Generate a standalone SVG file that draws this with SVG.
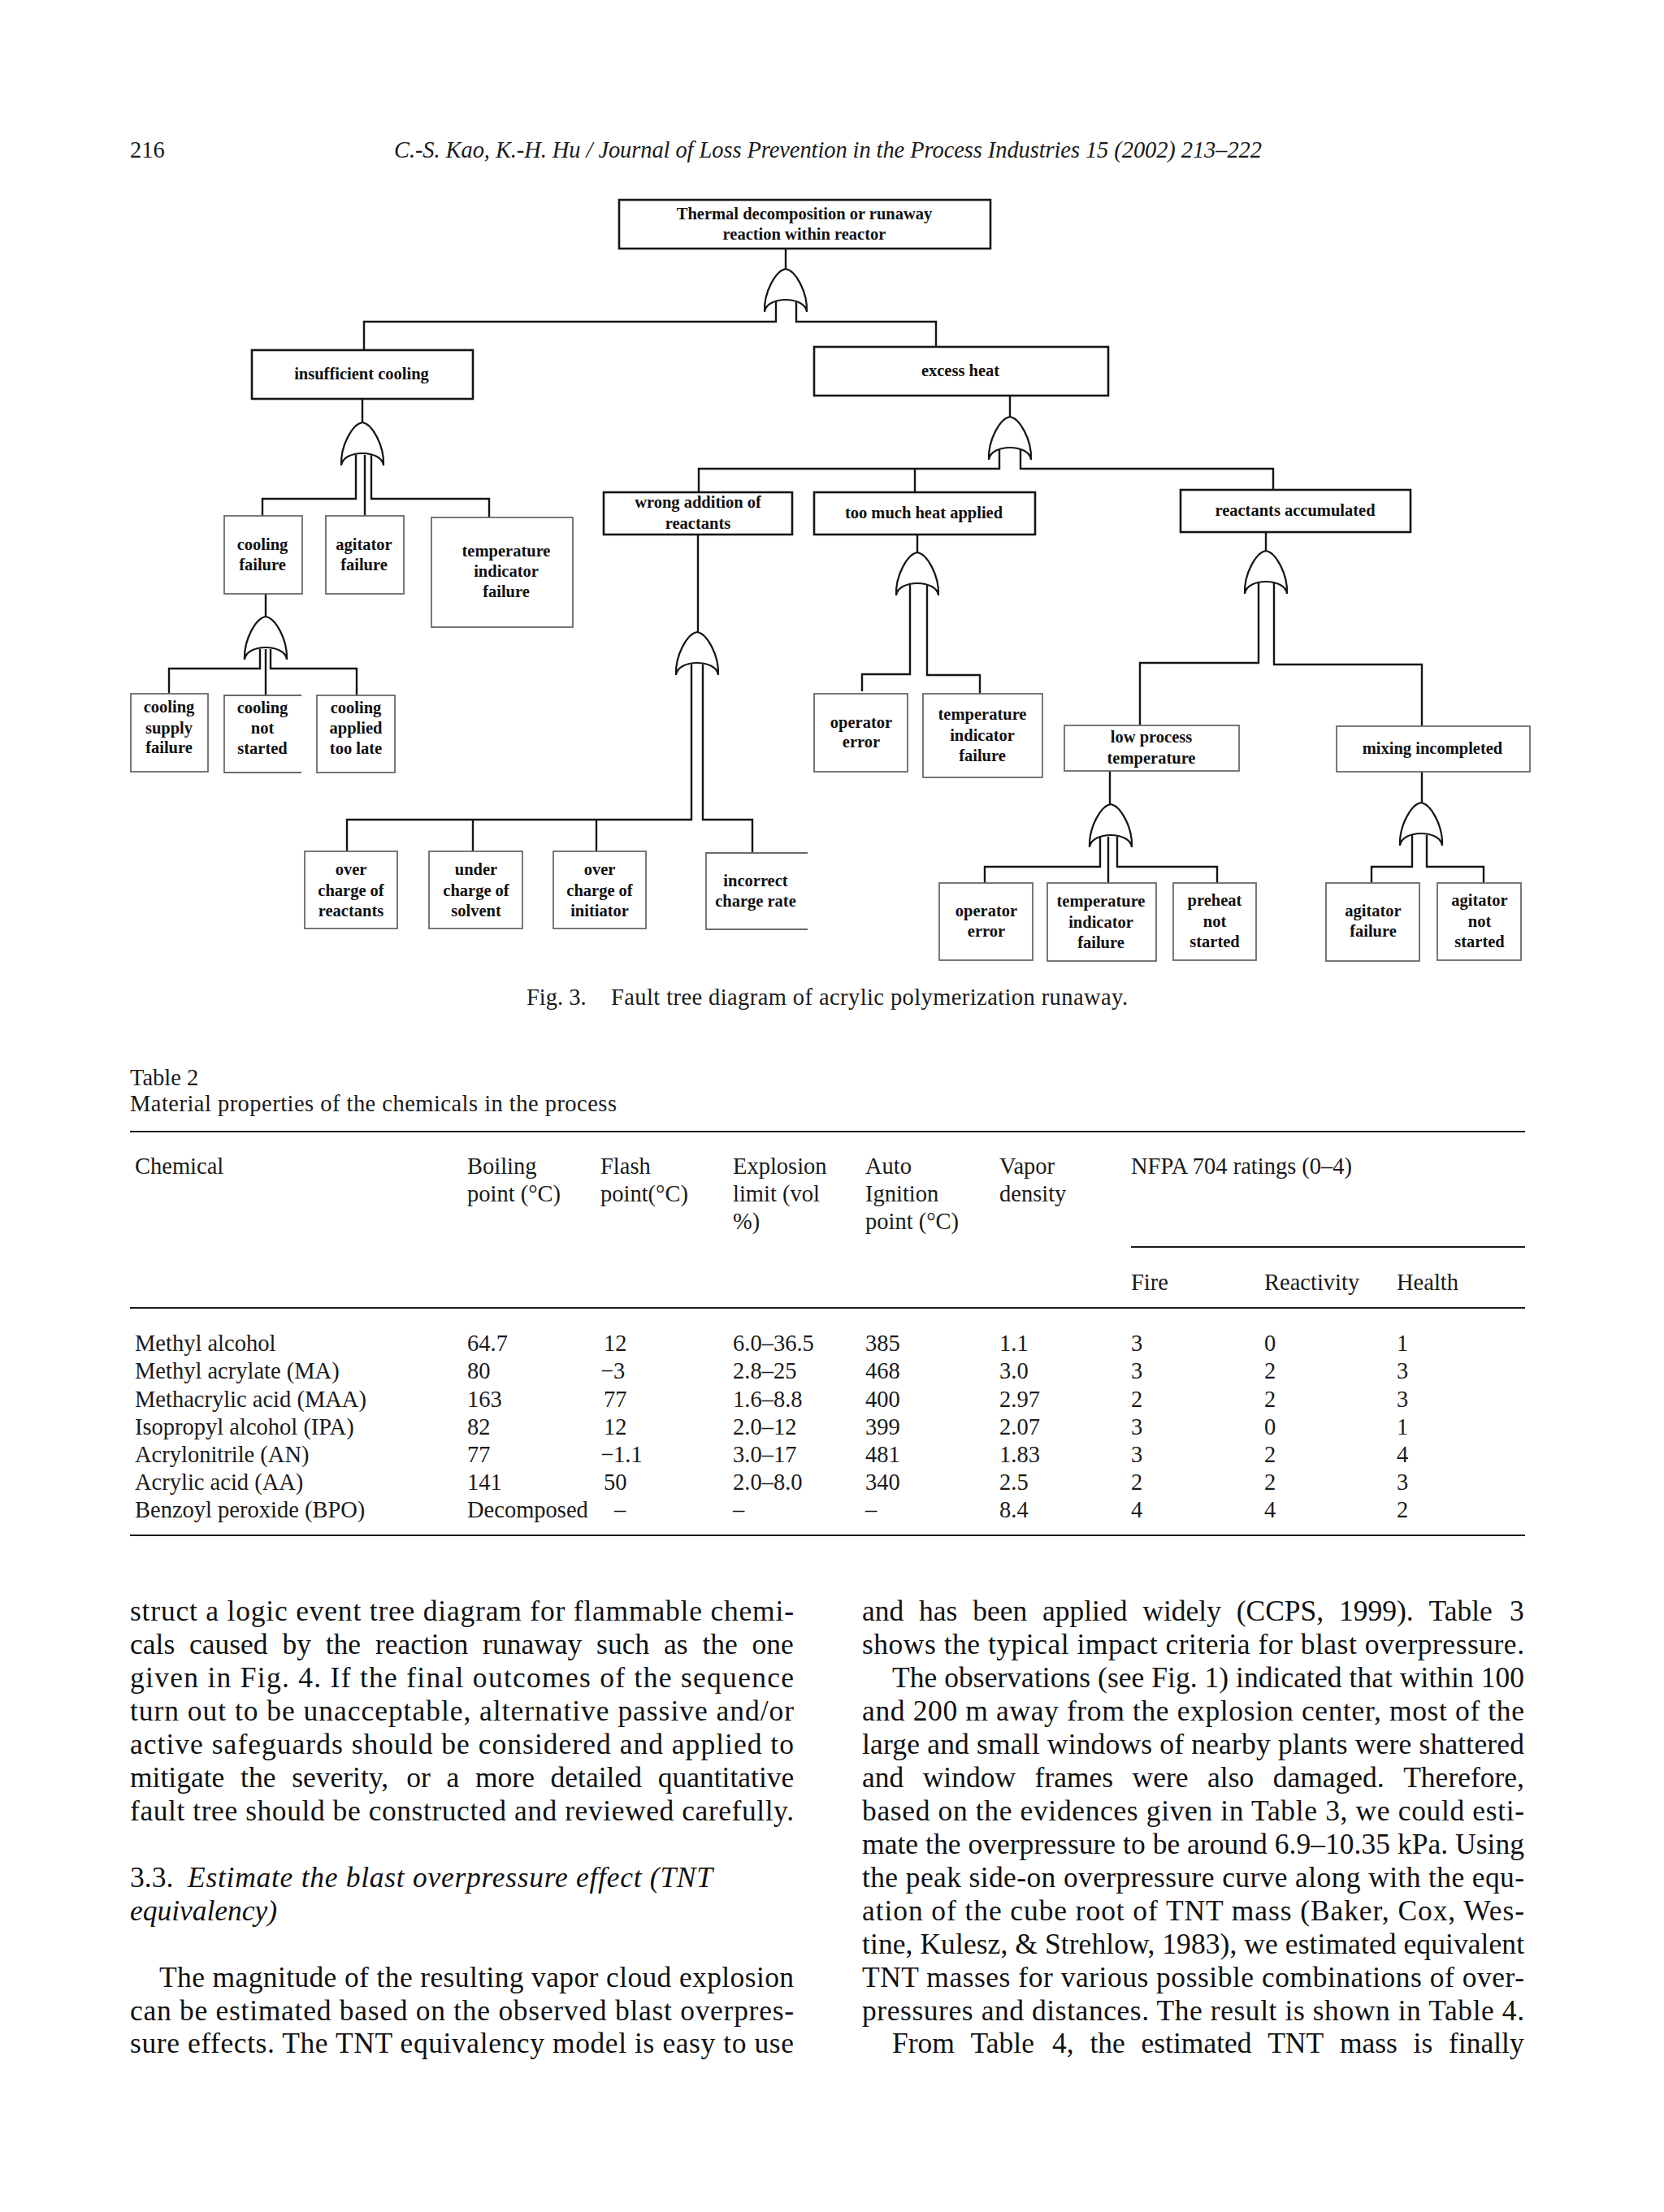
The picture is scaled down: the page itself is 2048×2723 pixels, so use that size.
<svg xmlns="http://www.w3.org/2000/svg" width="2048" height="2723" viewBox="0 0 2048 2723">
<style>
.thick{fill:#fff;stroke:#151515;stroke-width:2.6}
.thin{fill:#fff;stroke:#6a6a6a;stroke-width:1.8}
.open{fill:none;stroke:#6a6a6a;stroke-width:1.8}
.ln{fill:none;stroke:#151515;stroke-width:2.4}
.gate{fill:#fff;stroke:#151515;stroke-width:2.2}
.bt{font-family:"Liberation Serif","Times New Roman",serif;font-weight:bold;font-size:20.5px;text-anchor:middle;fill:#111}
.tx{font-family:"Liberation Serif","Times New Roman",serif;font-size:28.5px;fill:#1a1a1a}
.body{font-family:"Liberation Serif","Times New Roman",serif;font-size:35.5px;fill:#111}
.it{font-style:italic}
.rule{stroke:#1a1a1a;stroke-width:2.2}
</style>
<defs>
<path id="orgate" d="M -26 53 C -27 28 -12 2 0 0 C 12 2 27 28 26 53 C 24 33 -24 33 -26 53 Z"/>
</defs>
<rect width="2048" height="2723" fill="#fff"/>

<!-- page header -->
<text class="tx" x="160" y="194">216</text>
<text class="tx it" x="485" y="194" textLength="1068">C.-S. Kao, K.-H. Hu / Journal of Loss Prevention in the Process Industries 15 (2002) 213–222</text>

<!-- connectors -->
<g id="connectors" class="ln">
<path d="M967 306 V331"/>
<path d="M955 371 V396 H448 V431"/>
<path d="M980 371 V396 H1152 V427"/>
<path d="M446 491 V520"/>
<path d="M438 560 V614 H323 V635"/>
<path d="M449 560 V635"/>
<path d="M457 560 V614 H602 V637"/>
<path d="M327 731 V759"/>
<path d="M320 799 V823 H208 V854"/>
<path d="M327 799 V856"/>
<path d="M333 799 V823 H439 V856"/>
<path d="M1243 487 V513"/>
<path d="M1230 553 V577 H860 V606"/>
<path d="M1126 577 V606"/>
<path d="M1256 553 V577 H1567 V603"/>
<path d="M859 658 V778"/>
<path d="M851 818 V1009 H427 V1048"/>
<path d="M582 1009 V1048"/>
<path d="M734 1009 V1048"/>
<path d="M865 818 V1009 H926 V1050"/>
<path d="M1129 658 V680"/>
<path d="M1120 720 V830 H1061 V851"/>
<path d="M1141 720 V831 H1206 V854"/>
<path d="M1558 655 V678"/>
<path d="M1549 718 V816 H1403 V893"/>
<path d="M1568 718 V818 H1750 V894"/>
<path d="M1366 949 V990"/>
<path d="M1354 1030 V1067 H1212 V1087"/>
<path d="M1364 1030 V1087"/>
<path d="M1375 1030 V1067 H1498 V1087"/>
<path d="M1750 950 V988"/>
<path d="M1738 1028 V1067 H1688 V1087"/>
<path d="M1756 1028 V1067 H1826 V1087"/>
</g>

<!-- OR gates -->
<g id="gates" class="gate">
<use href="#orgate" transform="translate(967,331)"/>
<use href="#orgate" transform="translate(1243,513)"/>
<use href="#orgate" transform="translate(858,778)"/>
<use href="#orgate" transform="translate(1129,680)"/>
<use href="#orgate" transform="translate(1558,678)"/>
<use href="#orgate" transform="translate(1367,990)"/>
<use href="#orgate" transform="translate(1749,988)"/>
<use href="#orgate" transform="translate(327,759)"/>
<use href="#orgate" transform="translate(446,520)"/>
</g>

<!-- nodes -->
<g id="n-top"><rect class="thick" x="762" y="246" width="457" height="60"/>
<text class="bt" x="990" y="270">Thermal decomposition or runaway</text><text class="bt" x="990" y="295">reaction within reactor</text></g>

<g id="n-insufficient-cooling"><rect class="thick" x="310" y="431" width="272" height="60"/>
<text class="bt" x="445" y="467">insufficient cooling</text></g>

<g id="n-excess-heat"><rect class="thick" x="1002" y="427" width="362" height="60"/>
<text class="bt" x="1182" y="463">excess heat</text></g>

<g id="n-wrong-addition"><rect class="thick" x="743" y="606" width="232" height="52"/>
<text class="bt" x="859" y="625">wrong addition of</text><text class="bt" x="859" y="651">reactants</text></g>

<g id="n-too-much-heat"><rect class="thick" x="1002" y="606" width="272" height="52"/>
<text class="bt" x="1137" y="638">too much heat applied</text></g>

<g id="n-reactants-accumulated"><rect class="thick" x="1453" y="603" width="283" height="52"/>
<text class="bt" x="1594" y="635">reactants accumulated</text></g>

<g id="n-cooling-failure"><rect class="thin" x="276" y="635" width="96" height="96"/>
<text class="bt" x="323" y="677">cooling</text><text class="bt" x="323" y="702">failure</text></g>

<g id="n-agitator-failure-1"><rect class="thin" x="401" y="635" width="96" height="96"/>
<text class="bt" x="448" y="677">agitator</text><text class="bt" x="448" y="702">failure</text></g>

<g id="n-temp-indicator-1"><rect class="thin" x="531" y="637" width="174" height="135"/>
<text class="bt" x="623" y="685">temperature</text><text class="bt" x="623" y="710">indicator</text><text class="bt" x="623" y="735">failure</text></g>

<g id="n-cooling-supply"><rect class="thin" x="161" y="854" width="95" height="96"/>
<text class="bt" x="208" y="877">cooling</text><text class="bt" x="208" y="903">supply</text><text class="bt" x="208" y="927">failure</text></g>

<g id="n-cooling-not-started"><path class="open" d="M371 856 H276 V951 H371"/>
<text class="bt" x="323" y="878">cooling</text><text class="bt" x="323" y="903">not</text><text class="bt" x="323" y="928">started</text></g>

<g id="n-cooling-too-late"><rect class="thin" x="390" y="856" width="96" height="95"/>
<text class="bt" x="438" y="878">cooling</text><text class="bt" x="438" y="903">applied</text><text class="bt" x="438" y="928">too late</text></g>

<g id="n-operator-error-1"><rect class="thin" x="1002" y="854" width="115" height="96"/>
<text class="bt" x="1060" y="896">operator</text><text class="bt" x="1060" y="920">error</text></g>

<g id="n-temp-indicator-2"><rect class="thin" x="1136" y="854" width="147" height="103"/>
<text class="bt" x="1209" y="886">temperature</text><text class="bt" x="1209" y="912">indicator</text><text class="bt" x="1209" y="937">failure</text></g>

<g id="n-low-process-temp"><rect class="thin" x="1310" y="893" width="215" height="56"/>
<text class="bt" x="1417" y="914">low process</text><text class="bt" x="1417" y="940">temperature</text></g>

<g id="n-mixing-incompleted"><rect class="thin" x="1645" y="894" width="238" height="56"/>
<text class="bt" x="1763" y="928">mixing incompleted</text></g>

<g id="n-over-charge-reactants"><rect class="thin" x="375" y="1048" width="114" height="95"/>
<text class="bt" x="432" y="1077">over</text><text class="bt" x="432" y="1103">charge of</text><text class="bt" x="432" y="1128">reactants</text></g>

<g id="n-under-charge-solvent"><rect class="thin" x="528" y="1048" width="115" height="95"/>
<text class="bt" x="586" y="1077">under</text><text class="bt" x="586" y="1103">charge of</text><text class="bt" x="586" y="1128">solvent</text></g>

<g id="n-over-charge-initiator"><rect class="thin" x="681" y="1048" width="114" height="95"/>
<text class="bt" x="738" y="1077">over</text><text class="bt" x="738" y="1103">charge of</text><text class="bt" x="738" y="1128">initiator</text></g>

<g id="n-incorrect-charge-rate"><path class="open" d="M994 1050 H869 V1144 H994"/>
<text class="bt" x="930" y="1091">incorrect</text><text class="bt" x="930" y="1116">charge rate</text></g>

<g id="n-operator-error-2"><rect class="thin" x="1156" y="1087" width="115" height="95"/>
<text class="bt" x="1214" y="1128">operator</text><text class="bt" x="1214" y="1153">error</text></g>

<g id="n-temp-indicator-3"><rect class="thin" x="1289" y="1087" width="134" height="96"/>
<text class="bt" x="1355" y="1116">temperature</text><text class="bt" x="1355" y="1142">indicator</text><text class="bt" x="1355" y="1167">failure</text></g>

<g id="n-preheat-not-started"><rect class="thin" x="1444" y="1087" width="102" height="95"/>
<text class="bt" x="1495" y="1115">preheat</text><text class="bt" x="1495" y="1141">not</text><text class="bt" x="1495" y="1166">started</text></g>

<g id="n-agitator-failure-2"><rect class="thin" x="1632" y="1087" width="115" height="96"/>
<text class="bt" x="1690" y="1128">agitator</text><text class="bt" x="1690" y="1153">failure</text></g>

<g id="n-agitator-not-started"><rect class="thin" x="1769" y="1087" width="103" height="95"/>
<text class="bt" x="1821" y="1115">agitator</text><text class="bt" x="1821" y="1141">not</text><text class="bt" x="1821" y="1166">started</text></g>

<!-- figure caption -->
<text class="tx" x="648" y="1237">Fig. 3.</text>
<text class="tx" x="752" y="1237" textLength="636">Fault tree diagram of acrylic polymerization runaway.</text>

<!-- table -->
<text class="tx" x="160" y="1336">Table 2</text>
<text class="tx" x="160" y="1368" textLength="599">Material properties of the chemicals in the process</text>
<line class="rule" x1="160" y1="1393" x2="1877" y2="1393"/>
<line class="rule" x1="1392" y1="1535" x2="1877" y2="1535"/>
<line class="rule" x1="160" y1="1610" x2="1877" y2="1610"/>
<line class="rule" x1="160" y1="1890" x2="1877" y2="1890"/>
<g class="tx">
<text x="166" y="1445">Chemical</text>
<text x="575" y="1445">Boiling</text><text x="575" y="1479">point (°C)</text>
<text x="739" y="1445">Flash</text><text x="739" y="1479">point(°C)</text>
<text x="902" y="1445">Explosion</text><text x="902" y="1479">limit (vol</text><text x="902" y="1513">%)</text>
<text x="1065" y="1445">Auto</text><text x="1065" y="1479">Ignition</text><text x="1065" y="1513">point (°C)</text>
<text x="1230" y="1445">Vapor</text><text x="1230" y="1479">density</text>
<text x="1392" y="1445">NFPA 704 ratings (0–4)</text>
<text x="1392" y="1588">Fire</text><text x="1556" y="1588">Reactivity</text><text x="1719" y="1588">Health</text>

<text x="166" y="1663">Methyl alcohol</text><text x="575" y="1663">64.7</text><text x="743" y="1663">12</text><text x="902" y="1663">6.0–36.5</text><text x="1065" y="1663">385</text><text x="1230" y="1663">1.1</text><text x="1392" y="1663">3</text><text x="1556" y="1663">0</text><text x="1719" y="1663">1</text>
<text x="166" y="1697">Methyl acrylate (MA)</text><text x="575" y="1697">80</text><text x="739" y="1697">−3</text><text x="902" y="1697">2.8–25</text><text x="1065" y="1697">468</text><text x="1230" y="1697">3.0</text><text x="1392" y="1697">3</text><text x="1556" y="1697">2</text><text x="1719" y="1697">3</text>
<text x="166" y="1731.5">Methacrylic acid (MAA)</text><text x="575" y="1731.5">163</text><text x="743" y="1731.5">77</text><text x="902" y="1731.5">1.6–8.8</text><text x="1065" y="1731.5">400</text><text x="1230" y="1731.5">2.97</text><text x="1392" y="1731.5">2</text><text x="1556" y="1731.5">2</text><text x="1719" y="1731.5">3</text>
<text x="166" y="1765.5">Isopropyl alcohol (IPA)</text><text x="575" y="1765.5">82</text><text x="743" y="1765.5">12</text><text x="902" y="1765.5">2.0–12</text><text x="1065" y="1765.5">399</text><text x="1230" y="1765.5">2.07</text><text x="1392" y="1765.5">3</text><text x="1556" y="1765.5">0</text><text x="1719" y="1765.5">1</text>
<text x="166" y="1800">Acrylonitrile (AN)</text><text x="575" y="1800">77</text><text x="739" y="1800">−1.1</text><text x="902" y="1800">3.0–17</text><text x="1065" y="1800">481</text><text x="1230" y="1800">1.83</text><text x="1392" y="1800">3</text><text x="1556" y="1800">2</text><text x="1719" y="1800">4</text>
<text x="166" y="1834">Acrylic acid (AA)</text><text x="575" y="1834">141</text><text x="743" y="1834">50</text><text x="902" y="1834">2.0–8.0</text><text x="1065" y="1834">340</text><text x="1230" y="1834">2.5</text><text x="1392" y="1834">2</text><text x="1556" y="1834">2</text><text x="1719" y="1834">3</text>
<text x="166" y="1868">Benzoyl peroxide (BPO)</text><text x="575" y="1868">Decomposed</text><text x="756" y="1868">–</text><text x="902" y="1868">–</text><text x="1065" y="1868">–</text><text x="1230" y="1868">8.4</text><text x="1392" y="1868">4</text><text x="1556" y="1868">4</text><text x="1719" y="1868">2</text>
</g>

<!-- body text, left column -->
<g class="body">
<text x="160" y="1995" textLength="817">struct a logic event tree diagram for flammable chemi-</text>
<text y="2036"><tspan x="160">cals</tspan><tspan x="233">caused</tspan><tspan x="347.4">by</tspan><tspan x="400.7">the</tspan><tspan x="461.9">reaction</tspan><tspan x="594.1">runaway</tspan><tspan x="734.1">such</tspan><tspan x="817">as</tspan><tspan x="864.4">the</tspan><tspan x="925.6">one</tspan></text>
<text x="160" y="2077" textLength="817">given in Fig. 4. If the final outcomes of the sequence</text>
<text x="160" y="2118" textLength="817">turn out to be unacceptable, alternative passive and/or</text>
<text x="160" y="2159" textLength="817">active safeguards should be considered and applied to</text>
<text y="2200"><tspan x="160">mitigate</tspan><tspan x="296.1">the</tspan><tspan x="359.2">severity,</tspan><tspan x="500.2">or</tspan><tspan x="549.5">a</tspan><tspan x="585">more</tspan><tspan x="677.6">detailed</tspan><tspan x="809.7">quantitative</tspan></text>
<text x="160" y="2241" textLength="817">fault tree should be constructed and reviewed carefully.</text>
<text y="2323"><tspan x="160">3.3.</tspan><tspan x="231" class="it" textLength="646">Estimate the blast overpressure effect (TNT</tspan></text>
<text class="it" x="160" y="2364" textLength="181">equivalency)</text>
<text x="196" y="2445.5" textLength="781">The magnitude of the resulting vapor cloud explosion</text>
<text x="160" y="2486.5" textLength="817">can be estimated based on the observed blast overpres-</text>
<text x="160" y="2527" textLength="817">sure effects. The TNT equivalency model is easy to use</text>

<!-- right column -->
<text y="1995"><tspan x="1061">and</tspan><tspan x="1131.1">has</tspan><tspan x="1197.2">been</tspan><tspan x="1283">applied</tspan><tspan x="1406.3">widely</tspan><tspan x="1521.7">(CCPS,</tspan><tspan x="1648">1999).</tspan><tspan x="1758.5">Table</tspan><tspan x="1858.1">3</tspan></text>
<text x="1061" y="2036" textLength="815">shows the typical impact criteria for blast overpressure.</text>
<text x="1098" y="2077" textLength="778">The observations (see Fig. 1) indicated that within 100</text>
<text x="1061" y="2118" textLength="815">and 200 m away from the explosion center, most of the</text>
<text x="1061" y="2159" textLength="815">large and small windows of nearby plants were shattered</text>
<text y="2200"><tspan x="1061">and</tspan><tspan x="1135.7">window</tspan><tspan x="1273.6">frames</tspan><tspan x="1393.6">were</tspan><tspan x="1486.1">also</tspan><tspan x="1566.7">damaged.</tspan><tspan x="1727.2">Therefore,</tspan></text>
<text x="1061" y="2241" textLength="815">based on the evidences given in Table 3, we could esti-</text>
<text x="1061" y="2282" textLength="815">mate the overpressure to be around 6.9–10.35 kPa. Using</text>
<text x="1061" y="2323" textLength="815">the peak side-on overpressure curve along with the equ-</text>
<text x="1061" y="2364" textLength="815">ation of the cube root of TNT mass (Baker, Cox, Wes-</text>
<text x="1061" y="2404.5" textLength="815">tine, Kulesz, &amp; Strehlow, 1983), we estimated equivalent</text>
<text x="1061" y="2445.5" textLength="815">TNT masses for various possible combinations of over-</text>
<text x="1061" y="2486.5" textLength="815">pressures and distances. The result is shown in Table 4.</text>
<text y="2527"><tspan x="1098">From</tspan><tspan x="1194.6">Table</tspan><tspan x="1295.1">4,</tspan><tspan x="1341.4">the</tspan><tspan x="1404.5">estimated</tspan><tspan x="1560.2">TNT</tspan><tspan x="1648.9">mass</tspan><tspan x="1739.6">is</tspan><tspan x="1783">finally</tspan></text>
</g>
</svg>
